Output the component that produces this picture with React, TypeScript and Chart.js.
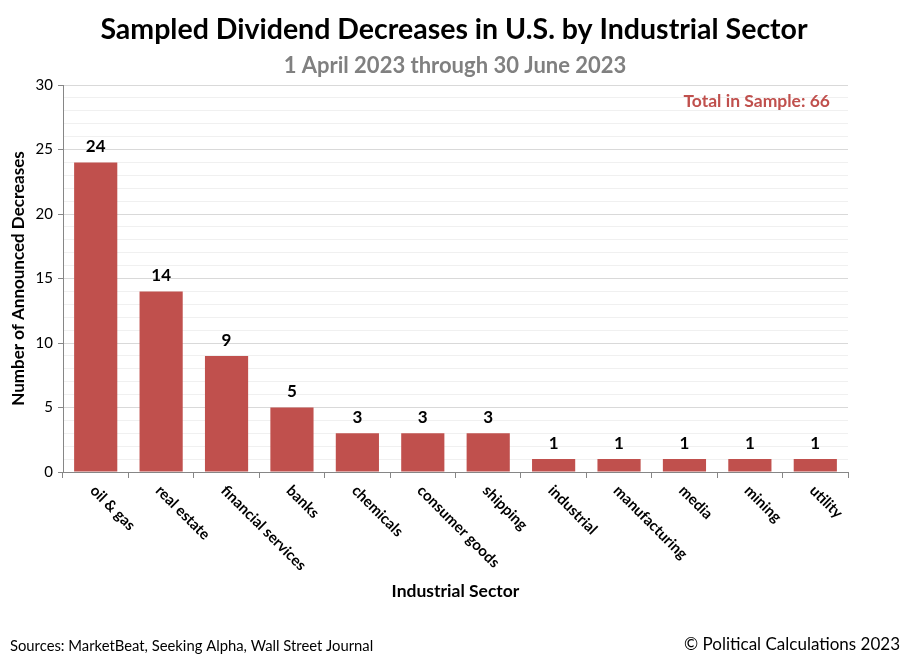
import { useEffect, useRef } from "react";
import Chart from "chart.js/auto";

const sectors = [
  "oil & gas",
  "real estate",
  "financial services",
  "banks",
  "chemicals",
  "consumer goods",
  "shipping",
  "industrial",
  "manufacturing",
  "media",
  "mining",
  "utility",
];
const decreases = [24, 14, 9, 5, 3, 3, 3, 1, 1, 1, 1, 1];
const totalInSample = 66;

const FONT = "Lato, 'Open Sans', sans-serif";
const BAR_RED = "#C0504D";

const annotations = {
  id: "annotations",
  afterDatasetsDraw(chart: any) {
    const { ctx, chartArea, scales } = chart;
    const meta = chart.getDatasetMeta(0);
    ctx.save();
    // value labels above the bars
    ctx.fillStyle = "#000";
    ctx.font = `bold 17px ${FONT}`;
    ctx.textAlign = "center";
    ctx.textBaseline = "bottom";
    meta.data.forEach((bar: any, i: number) => {
      ctx.fillText(String(decreases[i]), bar.x, bar.y - 7);
    });

    // rotated category labels
    ctx.font = `bold 15px ${FONT}`;
    ctx.textAlign = "left";
    ctx.textBaseline = "middle";
    sectors.forEach((name, i) => {
      const x = scales.x.getPixelForValue(i);
      ctx.save();
      ctx.translate(x - 3, chartArea.bottom + 16);
      ctx.rotate(Math.PI / 4);
      ctx.fillText(name, 0, 0);
      ctx.restore();
    });

    ctx.fillStyle = BAR_RED;
    ctx.font = `bold 17.5px ${FONT}`;
    ctx.textAlign = "right";
    ctx.fillText(`Total in Sample: ${totalInSample}`, chartArea.right - 18, 101);
    ctx.restore();
  },
  afterDraw(chart: any) {
    const { ctx, width } = chart;
    ctx.save();
    ctx.textAlign = "center";
    ctx.textBaseline = "middle";
    ctx.fillStyle = "#000";
    ctx.font = `bold 28.5px ${FONT}`;
    ctx.fillText("Sampled Dividend Decreases in U.S. by Industrial Sector", width / 2 - 1, 30);
    ctx.fillStyle = "#808080";
    ctx.font = `bold 22px ${FONT}`;
    ctx.fillText("1 April 2023 through 30 June 2023", width / 2, 66);

    ctx.fillStyle = "#000";
    ctx.font = `14.8px ${FONT}`;
    ctx.textAlign = "left";
    ctx.fillText("Sources: MarketBeat, Seeking Alpha, Wall Street Journal", 10, 646);
    ctx.font = `17px ${FONT}`;
    ctx.textAlign = "right";
    ctx.fillText("\u00A9 Political Calculations 2023", 900, 645);
    ctx.restore();
  },
};

export default function App() {
  const canvasRef = useRef<HTMLCanvasElement | null>(null);

  useEffect(() => {
    document.body.style.margin = "0";
    const canvas = canvasRef.current;
    if (!canvas) return;

    const chart = new Chart(canvas, {
      type: "bar",
      data: {
        labels: sectors,
        datasets: [
          {
            label: "Announced Decreases",
            data: decreases,
            backgroundColor: BAR_RED,
            barPercentage: 0.66,
            categoryPercentage: 1,
          },
        ],
      },
      options: {
        animation: false,
        responsive: false,
        devicePixelRatio: 1,
        layout: { padding: { top: 85, right: 62, bottom: 40, left: 0 } },
        plugins: {
          legend: { display: false },
          tooltip: { enabled: false },
        },
        scales: {
          x: {
            afterFit: (s: any) => {
              s.height = 150;
            },
            border: { color: "#868686" },
            grid: {
              drawOnChartArea: false,
              drawTicks: true,
              tickLength: 6,
              tickColor: "#868686",
            },
            ticks: { display: false },
            title: {
              display: true,
              text: "Industrial Sector",
              color: "#000",
              font: { family: FONT, size: 17.5, weight: "bold" },
              padding: { top: 0, bottom: 20 },
            },
          },
          y: {
            min: 0,
            max: 30,
            afterFit: (s: any) => {
              s.width = 63;
            },
            border: { color: "#868686" },
            grid: {
              color: (c: any) => (c.tick && c.tick.value % 5 === 0 ? "#d9d9d9" : "#f0f0f0"),
              tickColor: (c: any) => (c.tick && c.tick.value % 5 === 0 ? "#868686" : "rgba(0,0,0,0)"),
              tickLength: 5,
            },
            ticks: {
              stepSize: 1,
              autoSkip: false,
              color: "#000",
              padding: 5,
              font: { family: FONT, size: 15 },
              callback: (v: any) => (Number(v) % 5 === 0 ? String(v) : ""),
            },
            title: {
              display: true,
              text: "Number of Announced Decreases",
              color: "#000",
              font: { family: FONT, size: 17, weight: "bold" },
              padding: { top: 8, bottom: 0 },
            },
          },
        },
      },
      plugins: [annotations],
    });

    return () => {
      chart.destroy();
    };
  }, []);

  return <canvas ref={canvasRef} width={910} height={662} style={{ display: "block" }} />;
}
